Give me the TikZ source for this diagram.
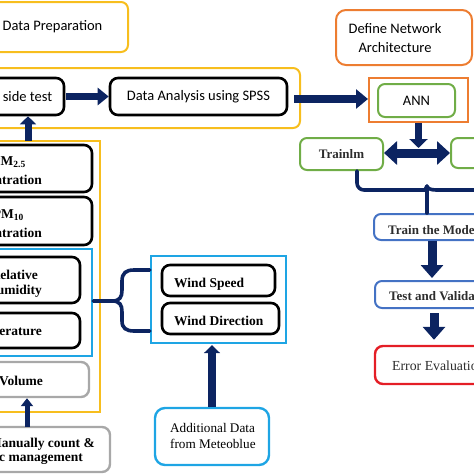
\documentclass[tikz,border=0pt]{standalone}
\usepackage{fontspec}
\setmainfont{Liberation Serif}
\newfontfamily\calib{Carlito}
\usetikzlibrary{arrows.meta}
\definecolor{ylw}{RGB}{247,190,30}
\definecolor{orng}{RGB}{237,125,49}
\definecolor{grn}{RGB}{112,173,71}
\definecolor{blu}{RGB}{68,114,196}
\definecolor{rd}{RGB}{228,30,38}
\definecolor{cyn}{RGB}{30,165,228}
\definecolor{gry}{RGB}{168,168,168}
\definecolor{navy}{RGB}{12,36,97}
\definecolor{txtg}{RGB}{45,45,45}
\tikzset{
  bx/.style={draw, inner sep=0pt, rounded corners=#1},
  bx/.default=7pt,
  ybox/.style={bx, draw=ylw, line width=2pt},
  kbox/.style={bx=8pt, draw=black, line width=2.6pt},
  gbox/.style={bx, draw=grn, line width=2pt},
  bbox/.style={bx, draw=blu, line width=2pt},
  graybox/.style={bx=8pt, draw=gry, line width=2.4pt},
  sans/.style={font=\calib\fontsize{14.5}{19}\selectfont},
  bold/.style={font=\rmfamily\bfseries\fontsize{13.5}{15}\selectfont},
  rtxt/.style={text=txtg, font=\rmfamily\bfseries\fontsize{13}{15}\selectfont},
  plain/.style={font=\rmfamily\fontsize{13.2}{15}\selectfont},
  lbl/.style={inner sep=0pt},
  arr/.style={draw=navy, line width=#1},
  harrow/.style={arr=7.5pt, -{Triangle[width=17pt,length=11pt]}},
  varrow/.style={arr=9pt, -{Triangle[width=22pt,length=13pt]}},
  uarrow/.style={arr=7pt, -{Triangle[width=16pt,length=8pt]}},
  brace/.style={draw=navy, line width=3.6pt, line cap=round},
}
\begin{document}
\begin{tikzpicture}[x=1pt,y=-1pt]
\useasboundingbox (0,0) rectangle (474,474);
\clip (0,0) rectangle (474,474);
% top row
\node[ybox=8pt, minimum width=151pt, minimum height=50pt, sans] (prep) at (52.5,27) {Data Preparation};
\node[ybox=8pt, minimum width=320pt, minimum height=60pt] (toprow) at (140,98) {};
\node[kbox, minimum width=73pt, minimum height=37pt, sans] (side) at (27.5,96.5) {side test};
\node[kbox, minimum width=177pt, minimum height=37pt, sans] (spss) at (198.5,96.5) {Data Analysis using SPSS};
% network
\node[bx=10pt, draw=orng, line width=2pt, minimum width=136pt, minimum height=55pt] (define) at (404,37.5) {};
\node[lbl, sans, align=center] (deftxt) at (395,38) {Define Network\\Architecture};
\node[draw=orng, line width=2pt, inner sep=0pt, minimum width=99pt, minimum height=44pt] (annouter) at (418.5,100) {};
\node[gbox, minimum width=77pt, minimum height=33pt, sans] (ann) at (416.5,100.5) {ANN};
\node[gbox, minimum width=83pt, minimum height=32pt, rtxt] (trainlm) at (341.5,154) {Trainlm};
\node[gbox, minimum width=69pt, minimum height=30pt] (other) at (485.5,153) {};
\node[bbox, minimum width=116pt, minimum height=26pt] (train) at (432,227) {};
\node[bbox, minimum width=118pt, minimum height=27pt] (test) at (434,294.5) {};
\node[bx=8pt, draw=rd, line width=2.4pt, minimum width=118pt, minimum height=38pt] (error) at (434,365) {};
\node[lbl, rtxt, anchor=base west] (ttrain) at (388,234) {Train the Model};
\node[lbl, rtxt, anchor=base west] (ttest) at (389,300) {Test and Validation};
\node[lbl, text=txtg, font=\rmfamily\fontsize{13.8}{16}\selectfont, anchor=base west] (terr) at (392,370) {Error Evaluation};
% left column
\node[draw=ylw, line width=2pt, inner sep=0pt, minimum width=110pt, minimum height=271pt] (leftcol) at (45,276.5) {};
\node[kbox, minimum width=152pt, minimum height=47pt] (pm25) at (16,168.5) {};
\node[kbox, minimum width=152pt, minimum height=48pt] (pm10) at (16,221) {};
\node[draw=cyn, line width=2.4pt, inner sep=0pt, minimum width=102pt, minimum height=107pt] (met) at (41,302.5) {};
\node[kbox, minimum width=140pt, minimum height=46pt] (rh) at (10,280) {};
\node[kbox, minimum width=140pt, minimum height=35pt] (temp) at (10,330.5) {};
\node[graybox, minimum width=149pt, minimum height=35pt] (vol) at (14.5,379.5) {};
\node[graybox, minimum width=170pt, minimum height=45pt] (manual) at (25,449.5) {};
\node[lbl, bold, anchor=base east] (t25a) at (26,165) {PM\textsubscript{2.5}};
\node[lbl, bold, anchor=base east] (t25b) at (42,184) {Concentration};
\node[lbl, bold, anchor=base east] (t10a) at (24,218) {PM\textsubscript{10}};
\node[lbl, bold, anchor=base east] (t10b) at (42,237) {Concentration};
\node[lbl, bold, anchor=base east] (trh1) at (38,279) {Relative};
\node[lbl, bold, anchor=base east] (trh2) at (42,294) {Humidity};
\node[lbl, bold, anchor=base east] (ttemp) at (42,335) {Temperature};
\node[lbl, bold, anchor=base east] (tvol) at (43,385) {Volume};
\node[lbl, bold, anchor=base east] (tman1) at (95,447) {Manually count \&};
\node[lbl, bold, anchor=base east] (tman2) at (83,461) {traffic management};
% meteo
\node[draw=cyn, line width=2.4pt, inner sep=0pt, minimum width=135pt, minimum height=87pt] (met2) at (218.5,299.5) {};
\node[kbox, minimum width=113pt, minimum height=31pt] (ws) at (218.5,280.5) {};
\node[kbox, minimum width=117pt, minimum height=31pt] (wd) at (220.5,318.5) {};
\node[lbl, bold, anchor=base west] (tws) at (174,287) {Wind Speed};
\node[lbl, bold, anchor=base west] (twd) at (174,325) {Wind Direction};
\node[bx=10pt, draw=cyn, line width=2.4pt, minimum width=114pt, minimum height=57pt] (add) at (212,436.5) {};
\node[lbl, plain, anchor=base west] (tadd1) at (170,432) {Additional Data};
\node[lbl, plain, anchor=base west] (tadd2) at (170,448) {from Meteoblue};
% arrows
\draw[harrow, shorten <=1pt] (side.east) -- (spss.west);
\draw[arr=8pt, -{Triangle[width=19pt,length=12pt]}, shorten <=6pt] (spss.east |- 0,99) -- (annouter.west |- 0,99);
\coordinate (dtop) at (418.5,148);
\draw[arr=7.5pt, -{Triangle[width=18pt,length=9pt]}] (annouter.south) -- (dtop);
\draw[arr=9pt, {Triangle[width=23pt,length=13pt]}-{Triangle[width=23pt,length=13pt]}] (trainlm.east |- 0,153) -- (other.west |- 0,153);
\draw[varrow, shorten >=2pt] (train.south) -- (train.south |- test.north);
\draw[varrow, shorten <=4pt, shorten >=5pt] (test.south) -- (error.north);
\coordinate (upa) at (28,141);
\draw[uarrow] (upa) -- (upa |- side.south);
\coordinate (upb) at (27,427);
\draw[arr=5pt, -{Triangle[width=12pt,length=8pt]}] (upb) -- (upb |- vol.south);
\draw[arr=7.5pt, -{Triangle[width=16pt,length=8pt]}, shorten >=1pt] (add.north) -- (add.north |- met2.south);
% braces
\draw[brace] (met.east |- 0,301) -- (112,301) .. controls (120,301) and (122,297) .. (122,290) -- (122,281) .. controls (122,273) and (126,270) .. (134,270) -- (met2.west |- 0,270);
\draw[brace] (112,301) .. controls (120,301) and (122,305) .. (122,312) -- (122,321) .. controls (122,328) and (126,331) .. (134,331) -- (met2.west |- 0,331);
\draw[brace, rounded corners=7pt] (trainlm.south -| 357,0) -- (357,190) -- (418,190) .. controls (424,190) and (427,188) .. (427,186);
\draw[brace] (427,186) .. controls (427,188) and (430,190) .. (436,190) -- (490,190);
\draw[brace] (427,188) -- (train.north -| 427,0);
\end{tikzpicture}
\end{document}
